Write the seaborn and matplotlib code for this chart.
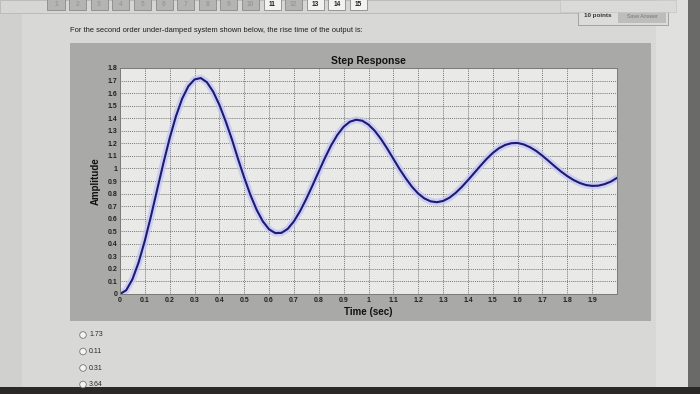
import matplotlib
matplotlib.use("Agg")
import matplotlib.pyplot as plt
import seaborn as sns
from matplotlib.patches import Rectangle, Ellipse

# ---------------- data ----------------
time_s = [0.000, 0.025, 0.050, 0.075, 0.100, 0.125, 0.150, 0.175, 0.200, 0.225,
          0.250, 0.275, 0.300, 0.325, 0.350, 0.375, 0.400, 0.425, 0.450, 0.475,
          0.500, 0.525, 0.550, 0.575, 0.600, 0.625, 0.650, 0.675, 0.700, 0.725,
          0.750, 0.775, 0.800, 0.825, 0.850, 0.875, 0.900, 0.925, 0.950, 0.975,
          1.000, 1.025, 1.050, 1.075, 1.100, 1.125, 1.150, 1.175, 1.200, 1.225,
          1.250, 1.275, 1.300, 1.325, 1.350, 1.375, 1.400, 1.425, 1.450, 1.475,
          1.500, 1.525, 1.550, 1.575, 1.600, 1.625, 1.650, 1.675, 1.700, 1.725,
          1.750, 1.775, 1.800, 1.825, 1.850, 1.875, 1.900, 1.925, 1.950, 1.975,
          2.000]
amplitude = [0.000, 0.030, 0.117, 0.252, 0.425, 0.623, 0.835, 1.045, 1.242, 1.415,
             1.555, 1.655, 1.709, 1.720, 1.686, 1.611, 1.506, 1.377, 1.234, 1.076,
             0.926, 0.788, 0.670, 0.578, 0.515, 0.485, 0.487, 0.519, 0.579, 0.661,
             0.759, 0.866, 0.976, 1.085, 1.185, 1.268, 1.332, 1.372, 1.388, 1.380,
             1.349, 1.300, 1.235, 1.159, 1.077, 0.995, 0.921, 0.854, 0.800, 0.761,
             0.738, 0.731, 0.741, 0.766, 0.804, 0.852, 0.906, 0.963, 1.020, 1.075,
             1.123, 1.161, 1.187, 1.201, 1.203, 1.191, 1.169, 1.139, 1.101, 1.059,
             1.016, 0.975, 0.939, 0.908, 0.884, 0.868, 0.861, 0.863, 0.875, 0.895,
             0.925]

x_ticks = [0.0, 0.1, 0.2, 0.3, 0.4, 0.5, 0.6, 0.7, 0.8, 0.9,
           1.0, 1.1, 1.2, 1.3, 1.4, 1.5, 1.6, 1.7, 1.8, 1.9]
x_tick_labels = ["0", "0.1", "0.2", "0.3", "0.4", "0.5", "0.6", "0.7", "0.8", "0.9",
                 "1", "1.1", "1.2", "1.3", "1.4", "1.5", "1.6", "1.7", "1.8", "1.9"]
y_ticks = [0.0, 0.1, 0.2, 0.3, 0.4, 0.5, 0.6, 0.7, 0.8, 0.9,
           1.0, 1.1, 1.2, 1.3, 1.4, 1.5, 1.6, 1.7, 1.8]
y_tick_labels = ["0", "0.1", "0.2", "0.3", "0.4", "0.5", "0.6", "0.7", "0.8", "0.9",
                 "1", "1.1", "1.2", "1.3", "1.4", "1.5", "1.6", "1.7", "1.8"]

question = "For the second order under-damped system shown below, the rise time of the output is:"
choices = ["1.73", "0.11", "0.31", "3.64"]
nav_numbers = ["1", "2", "3", "4", "5", "6", "7", "8", "9", "10",
               "11", "12", "13", "14", "15"]
nav_answered = [True, True, True, True, True, True, True, True, True, True,
                False, True, False, False, False]

# ---------------- style ----------------
sns.set_style("white")
plt.rcParams["font.family"] = ["Liberation Sans", "DejaVu Sans"]

W, H = 700, 394
fig = plt.figure(figsize=(7.0, 3.94), dpi=100)
fig.patch.set_facecolor("#d2d2d0")


def box(x0, y0, x1, y1, fc, ec="none", lw=0.0):
    """rectangle given in pixel coords (y from top)"""
    r = Rectangle((x0 / W, 1 - y1 / H), (x1 - x0) / W, (y1 - y0) / H,
                  transform=fig.transFigure, facecolor=fc, edgecolor=ec,
                  linewidth=lw, zorder=0)
    fig.patches.append(r)


def text(x, y, s, **kw):
    fig.text(x / W, 1 - y / H, s, zorder=2, **kw)


# page / screen surroundings
box(0, 0, 700, 394, "#d0d0ce")
box(22, 14, 656, 388, "#d8d8d6")
box(656, 0, 688, 388, "#e0e0de")
box(688, 0, 700, 394, "#6a6a68")
box(0, 387, 700, 394, "#2b2825")

# top navigation bar
box(0, 0, 656, 13, "#d6d6d4", ec="#b8b8b6", lw=0.6)
for i, (num, done) in enumerate(zip(nav_numbers, nav_answered)):
    cx = 56 + i * 21.6
    box(cx - 8.5, -2, cx + 8.5, 10, "#b4b4b2" if done else "#f2f2f0",
        ec="#8a8a88", lw=0.6)
    text(cx, 4.5, num, fontsize=4.8, fontweight="bold",
         color="#9a9a98" if done else "#222222", ha="center", va="center")
# points / save box top right
box(578, 10, 668, 25, "#dcdcda", ec="#9a9a98", lw=0.6)
text(598, 16, "10 points", fontsize=4.5, fontweight="bold", color="#333333",
     ha="center", va="center")
box(618, 11, 666, 23, "#bdbdbb")
text(642, 16, "Save Answer", fontsize=3.8, color="#777777", ha="center",
     va="center")
box(560, 0, 676, 12, "#dadad8", ec="#c4c4c2", lw=0.5)

# question
text(70, 31, question, fontsize=5.4, color="#1e1e1e", ha="left", va="center")

# chart panel
box(70, 43, 651, 321, "#a9a9a7")

# ---------------- the chart ----------------
ax = fig.add_axes([120 / W, 1 - 294 / H, (617 - 120) / W, (294 - 68) / H])
ax.set_zorder(5)
ax.set_facecolor("#e9e9e7")

sns.lineplot(x=time_s, y=amplitude, ax=ax, color="#c4c4f6", linewidth=5.0,
             alpha=0.75, legend=False)
sns.lineplot(x=time_s, y=amplitude, ax=ax, color="#1b1b74", linewidth=1.5,
             legend=False)

ax.set_xlim(0, 2.0)
ax.set_ylim(0, 1.8)
ax.set_xticks(x_ticks)
ax.set_xticklabels(x_tick_labels)
ax.set_yticks(y_ticks)
ax.set_yticklabels(y_tick_labels)
ax.tick_params(axis="both", direction="in", length=3, width=0.6,
               labelsize=5, colors="#333333", pad=2)
for lab in ax.get_xticklabels() + ax.get_yticklabels():
    lab.set_fontweight("bold")
    lab.set_color("#222222")
ax.grid(True, linestyle=(0, (1.0, 1.3)), color="#555555", linewidth=0.6)
for sp in ax.spines.values():
    sp.set_color("#7a7a78")
    sp.set_linewidth(0.7)

ax.set_title("Step Response", fontsize=7.5, fontweight="bold",
             color="#111111", pad=3)
ax.set_xlabel("Time (sec)", fontsize=7, fontweight="bold", color="#111111",
              labelpad=2)
ax.set_ylabel("Amplitude", fontsize=7, fontweight="bold", color="#111111",
              labelpad=5)

# ---------------- answer options ----------------
for i, c in enumerate(choices):
    yy = 335 + i * 16.5
    fig.patches.append(Ellipse((83 / W, 1 - yy / H), 6.6 / W, 6.6 / H,
                               transform=fig.transFigure, facecolor="#f4f4f2",
                               edgecolor="#777777", linewidth=0.6, zorder=1))
    text(89, yy, c, fontsize=5, color="#2a2a2a", ha="left", va="center")

fig.savefig("out.png", dpi=100, facecolor=fig.get_facecolor())
